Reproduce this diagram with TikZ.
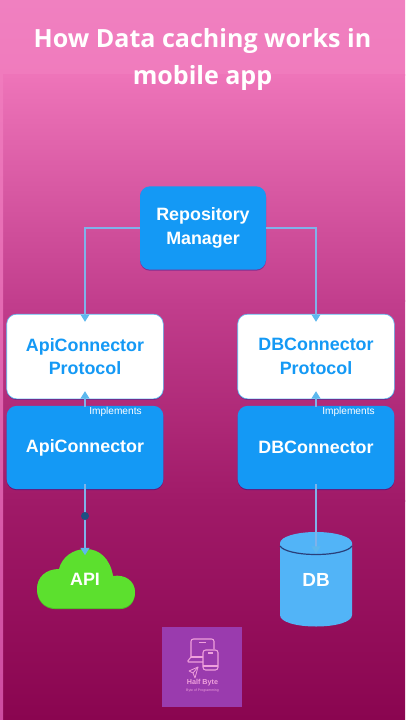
\documentclass[tikz,border=0pt]{standalone}
\usepackage{fontspec}
\setmainfont{Liberation Sans}
\newfontfamily\titlefont{Open Sans}
\usetikzlibrary{arrows.meta,shadows}
\definecolor{boxblue}{HTML}{1499F5}
\definecolor{linkblue}{HTML}{7FB2EA}
\definecolor{tipblue}{HTML}{5DB8EE}
\definecolor{dbblue}{HTML}{52B4F7}
\definecolor{cloudgreen}{HTML}{5CE02E}
\definecolor{logobg}{HTML}{9A3BAE}
\definecolor{logoline}{HTML}{EFA0DC}
\definecolor{prototext}{HTML}{1499F5}
\definecolor{dotblue}{HTML}{1D4F82}
\definecolor{rimblue}{HTML}{2A3F7A}
\tikzset{
  x=0.75pt,y=-0.75pt,
  edgeshadow/.style={general shadow={fill=black!10!blue!60!black,shadow xshift=0pt,shadow yshift=-0.8pt,opacity=.35}},
  solidbox/.style={rectangle,rounded corners=7.5pt,fill=boxblue,text=white,font=\bfseries\fontsize{13.4}{17.5}\selectfont,align=center,edgeshadow},
  protobox/.style={rectangle,rounded corners=7.5pt,fill=white,text=prototext,draw=tipblue,line width=.5pt,font=\bfseries\fontsize{13.4}{17.5}\selectfont,align=center,edgeshadow},
  wide/.style={minimum width=117.5pt},
  link/.style={draw=linkblue,line width=1.25pt,-{Triangle[length=5.5pt,width=6.5pt,fill=tipblue,color=tipblue]}},
  implabel/.style={text=white,font=\fontsize{7.6}{9}\selectfont,inner sep=0pt,anchor=west},
  logoicon/.style={draw=logoline,line width=.8pt,line join=round}
}
\begin{document}
\begin{tikzpicture}
\useasboundingbox (0,0) rectangle (405,720);
% background
\shade[top color={rgb,255:red,240;green,128;blue,192},bottom color={rgb,255:red,240;green,123;blue,189}] (0,0) rectangle (405,76);
\shade[top color={rgb,255:red,238;green,116;blue,185},bottom color={rgb,255:red,194;green,62;blue,141}] (3,75) rectangle (405,301);
\shade[top color={rgb,255:red,194;green,62;blue,141},bottom color={rgb,255:red,160;green,26;blue,104}] (3,300) rectangle (405,501);
\shade[top color={rgb,255:red,160;green,26;blue,104},bottom color={rgb,255:red,138;green,5;blue,80}] (3,500) rectangle (405,720);
\shade[top color={rgb,255:red,240;green,123;blue,189},bottom color={rgb,255:red,205;green,75;blue,160}] (0,75) rectangle (3,720);
% title
\node[text=white,font=\titlefont\bfseries\fontsize{18.8}{27.6}\selectfont,align=center] (title) at (202.5,59.5) {How Data caching works in\\mobile app};
% boxes
\node[solidbox,minimum width=94.5pt,minimum height=62.5pt] (repo) at (203,228) {Repository\\Manager};
\node[protobox,wide,minimum height=63.5pt] (apip) at (85,356.5) {ApiConnector\\Protocol};
\node[protobox,wide,minimum height=63.5pt] (dbp) at (316,356.5) {DBConnector\\Protocol};
\node[solidbox,wide,minimum height=62.5pt] (apic) at (85,447.5) {ApiConnector};
\node[solidbox,wide,minimum height=62.5pt] (dbc) at (316,447.5) {DBConnector};
% cloud
\fill[cloudgreen!85!black,yshift=-0.8pt] (55,608) .. controls (44,608) and (37,599) .. (37,589) .. controls (37,577) and (46,569) .. (59,569) .. controls (62,557) and (73,549) .. (86,549) .. controls (99,549) and (110,558) .. (113,576) .. controls (125,574) and (135,581) .. (135,592) .. controls (135,601) and (129,608) .. (120,608) -- cycle;
\fill[cloudgreen] (55,608) .. controls (44,608) and (37,599) .. (37,589) .. controls (37,577) and (46,569) .. (59,569) .. controls (62,557) and (73,549) .. (86,549) .. controls (99,549) and (110,558) .. (113,576) .. controls (125,574) and (135,581) .. (135,592) .. controls (135,601) and (129,608) .. (120,608) -- cycle;
\node[minimum width=74pt,minimum height=44pt,inner sep=0pt] (apicloud) at (85,571.5) {};
\node[text=white,font=\bfseries\fontsize{13.4}{16}\selectfont,inner sep=0pt] (apitext) at (85,579) {API};
% cylinder
\fill[dbblue] (280,543) -- (280,615) .. controls (280,622) and (296,626.5) .. (316,626.5) .. controls (336,626.5) and (352,622) .. (352,615) -- (352,543) -- cycle;
\fill[dbblue] (316,543) ellipse [x radius=36,y radius=11];
\draw[rimblue,line width=.9pt] (280,546) .. controls (283,551) and (298,554.5) .. (316,554.5) .. controls (334,554.5) and (349,551) .. (352,546);
\node[minimum width=54pt,minimum height=62pt,inner sep=0pt] (dbcyl) at (316,574) {};
\node[text=white,font=\bfseries\fontsize{14.2}{16}\selectfont,inner sep=0pt] (dbtext) at (316,580) {DB};
% connectors
\draw[link,shorten >=-6pt] (repo.west) -| (apip.north);
\draw[link,shorten >=-6pt] (repo.east) -| (dbp.north);
\draw[link,shorten >=-6pt,shorten <=-0.8pt] (apic.north) -- (apip.south);
\draw[link,shorten >=-6pt,shorten <=-0.8pt] (dbc.north) -- (dbp.south);
\draw[link,shorten <=-4pt,shorten >=-10pt] (apic.south) -- (apicloud.north);
\draw[link,shorten <=-4pt,shorten >=-16pt] (dbc.south) -- (dbcyl.north);
\node[circle,fill=dotblue,minimum size=6pt,inner sep=0pt] (apidot) at (85,516) {};
\node[implabel] (impa) at (89,412) {Implements};
\node[implabel] (impb) at (322,412) {Implements};
% logo
\fill[logobg] (162,627) rectangle (242,707);
\draw[logoicon,rounded corners=1.8pt] (191,657) -- (191,639) -- (214,639) -- (214,649);
\draw[logoicon] (199,642.5) -- (206,642.5);
\draw[logoicon,rounded corners=1pt] (191,657) -- (187,662) -- (203,662);
\draw[logoicon] (191,657) -- (203,657);
\draw[logoicon,rounded corners=2pt] (203,650) rectangle (218,670);
\draw[logoicon] (208,653) -- (213,653);
\draw[logoicon] (203,666) -- (218,666);
\draw[logoicon,line width=.6pt] (198,667) -- (189,671) -- (193,673) -- (195,678) -- cycle;
\draw[logoicon,line width=.6pt] (198,667) -- (193,673);
\node[text=logoline,font=\bfseries\fontsize{5.4}{6}\selectfont,inner sep=0pt] (halfbyte) at (202.5,682.5) {Half Byte};
\node[text=logoline,font=\fontsize{2.6}{3}\selectfont,inner sep=0pt] (logosub) at (202.5,691) {Byte of Programming};
\end{tikzpicture}
\end{document}
